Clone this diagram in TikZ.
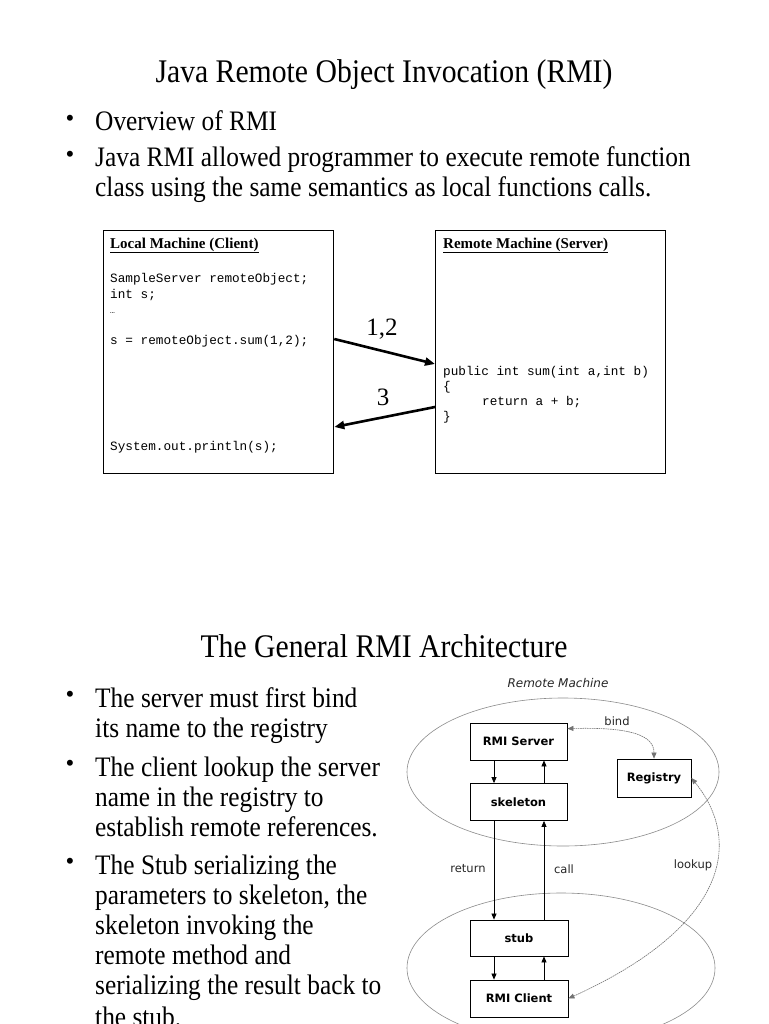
\documentclass[tikz,border=0pt]{standalone}
\usepackage{fontspec}
\setmainfont{Liberation Serif}
\newfontfamily\slidefont[FakeStretch=0.9]{Liberation Serif}
\newfontfamily\codefont{Liberation Mono}
\newfontfamily\dvfont{DejaVu Sans}
\usetikzlibrary{arrows.meta,calc}
\begin{document}
\begin{tikzpicture}[x=1pt,y=-1pt,
  titletext/.style={font=\fontsize{33}{36}\slidefont, inner sep=0, anchor=base},
  bullettext/.style={font=\fontsize{28.2}{30}\slidefont, inner sep=0, anchor=base west},
  bulletdot/.style={font=\fontsize{25}{25}\selectfont, inner sep=0, anchor=center},
  headtext/.style={font=\fontsize{15}{15}\selectfont\bfseries, inner sep=0, anchor=base west},
  codeline/.style={font=\fontsize{12.7}{15}\codefont, inner sep=0, anchor=base west},
  machinebox/.style={draw=black, line width=1.3pt, anchor=north west, inner sep=0,
    minimum width=230pt, minimum height=243pt},
  bigarrow/.style={-{Triangle[length=10pt,width=8pt]}, line width=2.6pt},
  numlabel/.style={font=\fontsize{25}{25}\selectfont, inner sep=0},
  comp/.style={draw=black, line width=0.8pt, minimum width=97pt, minimum height=37pt,
    font=\fontsize{11.5}{11.5}\dvfont\bfseries, inner sep=0},
  flow/.style={-{Triangle[length=6pt,width=5pt]}, line width=0.7pt},
  ringline/.style={draw=black!45, line width=0.6pt},
  dotcurve/.style={draw=black!55, line width=0.6pt, dash pattern=on 1.6pt off 0.7pt},
  smallhead/.style={{Triangle[length=6pt,width=5pt]}-{Triangle[length=6pt,width=5pt]}},
  flowlabel/.style={font=\fontsize{11.5}{11.5}\dvfont, text=black!85, inner sep=0}
]
\fill[white] (0,0) rectangle (768,1024);
\useasboundingbox (0,0) rectangle (768,1024);

% ---------- Slide 1 ----------
\node[titletext] (title1) at (384,83) {Java Remote Object Invocation (RMI)};

\node[bulletdot] (d1) at (70,121) {•};
\node[bullettext] (l1) at (95,131) {Overview of RMI};
\node[bulletdot] (d2) at (70,157) {•};
\node[bullettext] (l2) at (95,167) {Java RMI allowed programmer to execute remote function};
\node[bullettext] (l3) at (95,197) {class using the same semantics as local functions calls.};

% machines
\node[machinebox] (client) at (103,230) {};
\node[machinebox] (server) at (435,230) {};

\node[headtext] (ch) at (110,248) {\underline{Local Machine (Client)}};
\node[codeline] (c1) at (110,282) {SampleServer remoteObject;};
\node[codeline] (c2) at (110,298) {int s;};
\node[codeline] (c3) at (110,313) {\fontsize{8}{8}\selectfont …};
\node[codeline] (c4) at (110,344) {s = remoteObject.sum(1,2);};
\node[codeline] (c5) at (110,450) {System.out.println(s);};

\node[headtext] (sh) at (443,248) {\underline{Remote Machine (Server)}};
\node[codeline] (s1) at (443,375) {public int sum(int a,int b)};
\node[codeline] (s2) at (443,390) {\{};
\node[codeline] (s3) at (482,405) {return a + b;};
\node[codeline] (s4) at (443,420) {\}};

\coordinate (ya) at (0,339);
\coordinate (yb) at (0,364);
\coordinate (yc) at (0,407);
\coordinate (yd) at (0,427);
\draw[bigarrow] (client.east |- ya) -- (server.west |- yb);
\draw[bigarrow] (server.west |- yc) -- (client.east |- yd);
\node[numlabel] (n12) at (382,329) {1,2};
\node[numlabel] (n3) at (383,397) {3};

% ---------- Slide 2 ----------
\node[titletext] (title2) at (384,657) {The General RMI Architecture};

\node[bulletdot] (e1) at (70,697) {•};
\node[bullettext] (m1) at (95,707) {The server must first bind};
\node[bullettext] (m2) at (95,737) {its name to the registry};
\node[bulletdot] (e2) at (70,766) {•};
\node[bullettext] (m3) at (95,776) {The client lookup the server};
\node[bullettext] (m4) at (95,806) {name in the registry to};
\node[bullettext] (m5) at (95,836) {establish remote references.};
\node[bulletdot] (e3) at (70,864) {•};
\node[bullettext] (m6) at (95,874) {The Stub serializing the};
\node[bullettext] (m7) at (95,904) {parameters to skeleton, the};
\node[bullettext] (m8) at (95,934) {skeleton invoking the};
\node[bullettext] (m9) at (95,964) {remote method and};
\node[bullettext] (m10) at (95,994) {serializing the result back to};
\node[bullettext] (m11) at (95,1026) {the stub.};

% architecture diagram
\node[font=\fontsize{12}{12}\dvfont\itshape, text=black!85, inner sep=0] (rm) at (558,683) {Remote Machine};
\draw[ringline] (563,772) ellipse [x radius=156pt, y radius=74pt];
\draw[ringline] (561,968) ellipse [x radius=154pt, y radius=75pt];

\node[comp] (rmis) at (518.5,741.5) {RMI Server};
\node[comp] (skel) at (518.5,802) {skeleton};
\node[comp, minimum width=74pt, minimum height=38pt] (reg) at (654,778) {Registry};
\node[comp, minimum width=98pt, minimum height=36pt] (stub) at (519,938) {stub};
\node[comp, minimum width=98pt] (rmic) at (519,998.5) {RMI Client};

\coordinate (xl) at (494,0);
\coordinate (xr) at (544,0);
\draw[flow] (rmis.south -| xl) -- (skel.north -| xl);
\draw[flow] (skel.north -| xr) -- (rmis.south -| xr);
\draw[flow] (skel.south -| xl) -- (stub.north -| xl);
\draw[flow] (stub.north -| xr) -- (skel.south -| xr);
\draw[flow] (stub.south -| xl) -- (rmic.north -| xl);
\draw[flow] (rmic.north -| xr) -- (stub.south -| xr);

\node[flowlabel] (lret) at (468,869) {return};
\node[flowlabel] (lcall) at (564,869) {call};
\node[flowlabel] (lbind) at (617,721) {bind};
\node[flowlabel] (llook) at (693,865) {lookup};

\draw[dotcurve, smallhead] ($(rmis.north east)+(0,6)$) .. controls (630,727) and (654,735) .. (reg.north);
\draw[dotcurve, smallhead] (reg.east) .. controls (742,840) and (730,925) .. (rmic.east);
\end{tikzpicture}
\end{document}
